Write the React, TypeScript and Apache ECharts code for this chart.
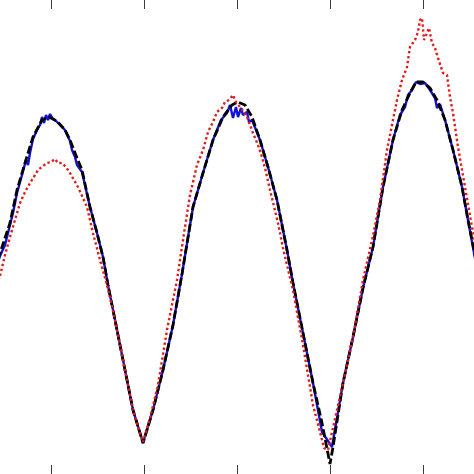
import { useEffect, useRef } from 'react'
import * as echarts from 'echarts'

// tick positions: one tick every 93 units, x values are sample positions
const xTickStep = 93
const xMin = -93
const xMax = 465
const yMin = 0
const yMax = 476

// black dashed curve
const dashedLine: [number, number][] = [
  [-56, 205], [-51, 222], [-41, 252], [-34, 285], [-26, 312], [-18, 338], [-9, 355],
  [-2, 358], [6, 354], [14, 345], [19, 335], [26, 317], [31, 305], [39, 268], [46, 242],
  [52, 218], [57, 190], [62, 165], [72, 115], [82, 65], [92, 32], [102, 65], [112, 105],
  [122, 150], [131, 201], [142, 268], [152, 302], [162, 335], [172, 358], [181, 370],
  [187, 373], [194, 370], [201, 358], [209, 335], [217, 308], [226, 275], [232, 245],
  [236, 225], [242, 192], [252, 142], [262, 92], [271, 52], [279, 11], [282, 28], [292, 92],
  [302, 138], [312, 187], [322, 228], [332, 288], [342, 335], [351, 365], [359, 382],
  [365, 393], [372, 393], [379, 387], [386, 375], [394, 355], [402, 325], [411, 288],
  [417, 255], [423, 225], [429, 195],
]

// blue solid curve
const solidLine: [number, number][] = [
  [-56, 203], [-51, 219], [-46, 230], [-41, 250], [-38, 262], [-34, 282], [-29, 300],
  [-25, 315], [-23, 310], [-21, 322], [-18, 336], [-14, 345], [-11, 350], [-9, 358],
  [-7, 352], [-5, 360], [-3, 355], [-1, 361], [2, 356], [5, 354], [9, 350], [14, 345],
  [19, 334], [21, 325], [24, 318], [26, 310], [31, 303], [39, 268], [46, 242], [52, 218],
  [57, 190], [62, 165], [72, 115], [82, 65], [92, 32], [102, 65], [112, 105], [122, 150],
  [131, 201], [142, 268], [152, 302], [162, 335], [170, 355], [176, 362], [179, 370],
  [182, 357], [185, 368], [187, 358], [190, 367], [192, 360], [196, 363], [198, 353],
  [201, 355], [209, 335], [217, 308], [226, 275], [232, 245], [236, 225], [242, 192],
  [252, 142], [262, 92], [271, 43], [281, 28], [292, 92], [302, 138], [312, 187],
  [322, 228], [332, 288], [342, 335], [349, 360], [354, 368], [357, 380], [361, 385],
  [365, 393], [369, 391], [374, 392], [379, 385], [384, 377], [386, 367], [389, 371],
  [394, 355], [402, 325], [411, 288], [417, 255], [423, 222], [429, 192],
]

// red dotted curve
const dottedLine: [number, number][] = [
  [-56, 185], [-51, 199], [-46, 220], [-41, 238], [-36, 255], [-31, 272], [-26, 283],
  [-21, 292], [-16, 300], [-13, 305], [-8, 309], [-4, 312], [0, 313], [4, 316], [7, 312],
  [11, 312], [15, 308], [19, 302], [27, 288], [36, 268], [42, 242], [49, 215], [56, 190],
  [62, 165], [72, 115], [82, 65], [92, 33], [99, 57], [107, 90], [116, 145], [126, 195],
  [132, 235], [139, 280], [146, 310], [152, 325], [157, 343], [162, 353], [166, 363],
  [171, 367], [174, 373], [178, 375], [182, 380], [185, 373], [189, 368], [193, 363],
  [196, 358], [199, 350], [202, 342], [207, 330], [211, 318], [215, 303], [219, 285],
  [227, 252], [232, 227], [236, 210], [242, 185], [252, 130], [262, 70], [269, 43],
  [273, 27], [277, 25], [286, 65], [292, 92], [302, 138], [312, 195], [322, 239],
  [329, 275], [336, 325], [342, 355], [346, 375], [351, 395], [356, 408], [359, 428],
  [364, 435], [367, 443], [369, 455], [371, 457], [373, 435], [376, 442], [378, 447],
  [381, 432], [384, 427], [387, 417], [392, 402], [396, 400], [399, 378], [402, 362],
  [407, 328], [414, 288], [421, 248], [427, 215],
]

export default function App() {
  const chartRef = useRef<HTMLDivElement>(null)

  useEffect(() => {
    if (!chartRef.current) return
    const chart = echarts.init(chartRef.current, undefined, { renderer: 'svg' })

    const tickAxis = (position: 'top' | 'bottom') => ({
      type: 'value' as const,
      position,
      min: xMin,
      max: xMax,
      interval: xTickStep,
      axisLine: { show: false },
      axisLabel: { show: false },
      splitLine: { show: false },
      axisTick: {
        show: true,
        inside: true,
        length: 10,
        lineStyle: { color: '#3a3a3a', width: 1 },
      },
    })

    const option: echarts.EChartsOption = {
      animation: false,
      backgroundColor: '#ffffff',
      grid: { left: 8, top: 9, width: 558, height: 476 },
      xAxis: [tickAxis('bottom'), tickAxis('top')],
      yAxis: {
        type: 'value',
        min: yMin,
        max: yMax,
        axisLine: { show: false },
        axisTick: { show: false },
        axisLabel: { show: false },
        splitLine: { show: false },
      },
      series: [
        {
          type: 'line',
          data: solidLine,
          showSymbol: false,
          silent: true,
          lineStyle: { color: '#1212d4', width: 2.4 },
        },
        {
          type: 'line',
          data: dashedLine,
          showSymbol: false,
          silent: true,
          lineStyle: { color: '#000000', width: 2.8, type: [8, 3] },
        },
        {
          type: 'line',
          data: dottedLine,
          showSymbol: false,
          silent: true,
          lineStyle: { color: '#e01b1b', width: 2.4, type: [2.4, 2.6] },
        },
      ],
    }

    chart.setOption(option)
    return () => {
      chart.dispose()
    }
  }, [])

  return (
    <div
      style={{
        position: 'fixed',
        left: 0,
        top: 0,
        width: 474,
        height: 474,
        overflow: 'hidden',
        background: '#fff',
      }}
    >
      <div
        ref={chartRef}
        style={{ position: 'absolute', left: -50, top: -10, width: 574, height: 494 }}
      />
    </div>
  )
}
